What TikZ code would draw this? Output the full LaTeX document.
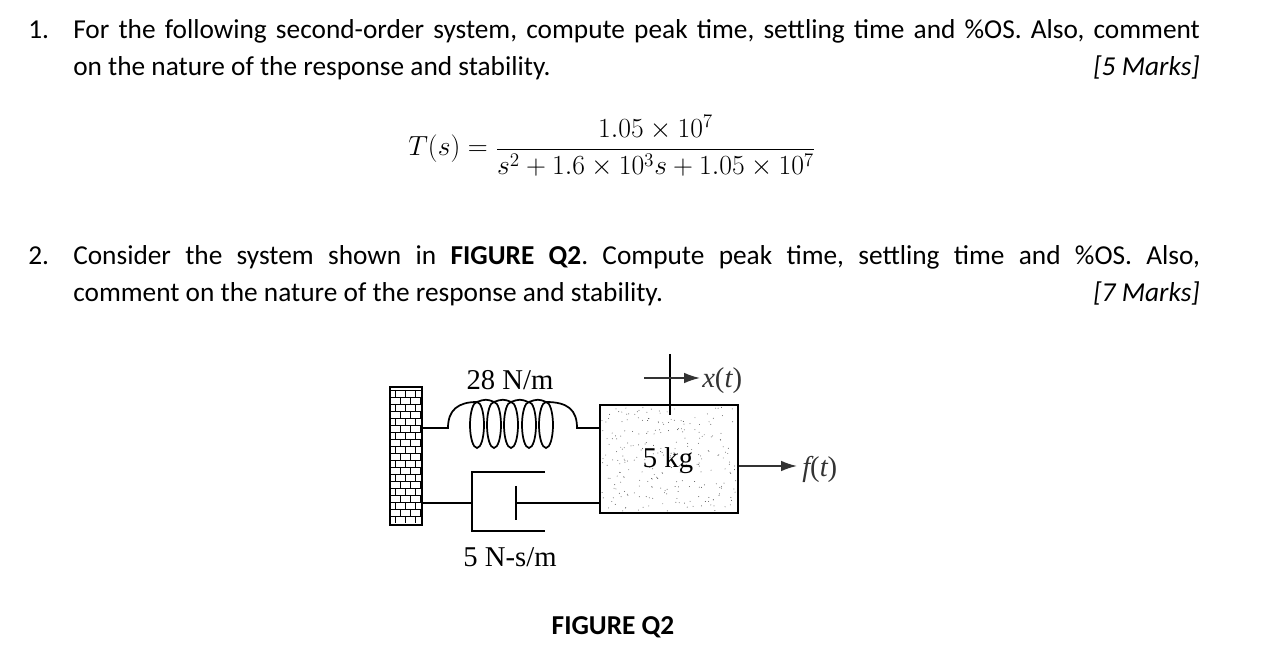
\documentclass[tikz,border=0pt]{standalone}
\usepackage{fontspec}
\setmainfont{Carlito}
\newfontfamily\tms{Liberation Serif}
\usetikzlibrary{arrows.meta}
\begin{document}
\frenchspacing
\begin{tikzpicture}[x=0.75pt,y=-0.75pt,
  body/.style={inner sep=0,font=\fontsize{20.5}{24}\selectfont},
  lab/.style={inner sep=0,font=\tms\fontsize{21.5}{25}\selectfont},
  ln/.style={line width=1.3pt},
  arr/.style={line width=1.2pt,-{Latex[length=12pt,width=8pt]},draw=black!80}]
\useasboundingbox (0,0) rectangle (1265,655);
% Question 1
\node[body,anchor=base west] (n1) at (28,39) {1.};
\node[body,anchor=base west] (q1a) at (73,39) {\makebox[845pt][s]{For the following second-order system, compute peak time, settling time and \%OS. Also, comment}};
\node[body,anchor=base west] (q1b) at (73,76) {on the nature of the response and stability.};
\node[body,anchor=base east] (m1) at (1200,76) {\itshape [5 Marks]};
\node[inner sep=0,font=\fontsize{21.5}{25}\selectfont] (eq) at (612,146) {$\displaystyle T(s)=\frac{1.05\times10^{7}}{s^{2}+1.6\times10^{3}s+1.05\times10^{7}}$};
% Question 2
\node[body,anchor=base west] (n2) at (28,265) {2.};
\node[body,anchor=base west] (q2a) at (73,265) {\makebox[845pt][s]{Consider the system shown in \textbf{FIGURE Q2}. Compute peak time, settling time and \%OS. Also,}};
\node[body,anchor=base west] (q2b) at (73,302) {comment on the nature of the response and stability.};
\node[body,anchor=base east] (m2) at (1200,302) {\itshape [7 Marks]};
% wall
\draw[line width=1.2pt,fill=white] (390,387) rectangle (422,525);
\foreach \i in {0,...,18}{
  \pgfmathsetmacro\yy{390+7*\i}
  \draw[line width=0.4pt] (391,\yy) -- (421,\yy);
  \pgfmathsetmacro\off{mod(\i,2)==0 ? 0 : 5}
  \foreach \xx in {395,405,415}{
    \draw[line width=0.4pt] ({\xx+\off},\yy) -- ({\xx+\off},{min(\yy+7,524)});}
}
\draw[line width=1.2pt] (390,387) rectangle (422,525);
% mass
\node[draw,line width=1.3pt,minimum width=103.5pt,minimum height=81pt,inner sep=0] (m) at (669,459) {};
\pgfmathsetseed{7}
\foreach \k in {1,...,260}{
  \fill[black!70] ({602+134*rnd},{407+104*rnd}) circle (0.35pt);}
\node[lab] (kg) at (668,461) {5 kg};
% spring
\draw[ln] (422,428) -- (448,428) .. controls (448,410) and (458,402) .. (477,402);
\foreach \c in {477,494,511,529,546}{
  \draw[ln] (\c,425) ellipse (7 and 23);}
\foreach \c in {477,494,511,529}{
  \draw[ln] (\c,402) .. controls ({\c+8},399) and ({\c+10},399) .. ({\c+17},402);}
\draw[ln] (546,402) .. controls (568,402) and (577,410) .. (577,428) -- (600,428);
\node[lab] (k) at (510,380) {28 N/m};
% damper
\draw[ln] (422,503) -- (472,503);
\draw[ln] (545,472) -- (472,472) -- (472,531) -- (545,531);
\draw[line width=2pt] (516,486) -- (516,520);
\draw[ln] (516,503) -- (m.west |- 0,503);
\node[lab] (b) at (510,557) {5 N-s/m};
% x(t)
\draw[ln] (670,354) -- (670,415);
\coordinate (xa) at (644,378);
\coordinate (xb) at (700,378);
\draw[arr] (xa) -- (xb);
\node[lab,anchor=west,black!80] (x) at (702,381) {\itshape x\upshape(\itshape t\upshape)};
% f(t)
\coordinate (fa) at (m.east |- 0,466);
\coordinate (fb) at (797,466);
\draw[arr] (fa) -- (fb);
\node[lab,anchor=west,black!80] (f) at (802,469) {\itshape f\upshape(\itshape t\upshape)};
\node[inner sep=0,font=\fontsize{20.5}{24}\selectfont\bfseries] (cap) at (613,627) {FIGURE Q2};
\end{tikzpicture}
\end{document}
